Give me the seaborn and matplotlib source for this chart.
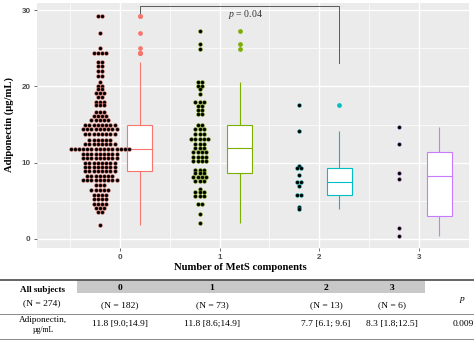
import numpy as np
import pandas as pd
import matplotlib
matplotlib.use("Agg")
import matplotlib.pyplot as plt
import seaborn as sns
from matplotlib.lines import Line2D
from matplotlib.patches import Rectangle

# ---------------- data ----------------
groups = [0, 1, 2, 3]
group_colors = ["#F8766D", "#7CAE00", "#00BFC4", "#C77CFF"]

# adiponectin values (ug/mL) and number of subjects at each value
g0_values = [29.2, 27.0, 25.0, 24.4, 23.2, 22.7, 22.0, 21.4, 20.6, 20.1, 19.6, 19.1, 18.6, 18.0,
             17.5, 16.6, 16.1, 15.6, 15.0, 14.4, 13.7, 13.0, 12.4, 11.8, 11.2, 10.6, 10.0, 9.4,
             8.9, 8.2, 7.7, 7.1, 6.4, 5.8, 5.2, 4.6, 4.0, 3.5, 1.8]
g0_counts = [2, 1, 1, 4, 2, 2, 2, 2, 1, 2, 2, 3, 2, 3,
             3, 3, 4, 5, 8, 9, 8, 6, 8, 15, 9, 9, 8, 8,
             8, 7, 9, 3, 5, 4, 4, 4, 3, 2, 1]

g1_values = [27.2, 25.5, 24.9, 20.6, 20.1, 19.6, 19.0, 18.0, 17.4, 16.9, 16.4, 15.0, 14.4, 13.7,
             13.1, 12.5, 11.9, 11.4, 10.8, 10.2, 9.1, 8.6, 8.1, 7.6, 6.6, 6.1, 5.6, 4.6, 3.3, 2.1]
g1_counts = [1, 1, 1, 2, 2, 1, 1, 3, 2, 2, 2, 2, 3, 3,
             5, 3, 3, 4, 4, 4, 3, 3, 4, 3, 1, 3, 3, 2, 1, 1]

g2_values = [17.5, 14.1, 9.6, 9.3, 8.4, 7.5, 6.9, 5.8, 4.25, 3.9]
g2_counts = [1, 1, 1, 2, 1, 2, 1, 2, 1, 1]

g3_values = [14.7, 12.4, 8.6, 7.8, 1.5, 0.4]
g3_counts = [1, 1, 1, 1, 1, 1]

xlabel = "Number of MetS components"
ylabel = "Adiponectin (\u00b5g/mL)"
p_label = "0.04"

table_header = ["0", "1", "2", "3"]
table_n = ["(N = 182)", "(N = 73)", "(N = 13)", "(N = 6)"]
table_values = ["11.8 [9.0;14.9]", "11.8 [8.6;14.9]", "7.7 [6.1; 9.6]", "8.3 [1.8;12.5]"]
table_p = "0.009"

# ---------------- frame ----------------
DOT_STEP = 0.042      # horizontal stacking step of the dot plot (x data units)
DOT_SHIFT = -0.2      # dot plot sits left of the category
BOX_SHIFT = 0.2       # box plot sits right of the category

vals = [g0_values, g1_values, g2_values, g3_values]
cnts = [g0_counts, g1_counts, g2_counts, g3_counts]
frames = []
for g, v, c in zip(groups, vals, cnts):
    for value, n in zip(v, c):
        stack = (np.arange(n) - (n - 1) / 2) * DOT_STEP  # centred stacking (like geom_dotplot)
        frames.append(pd.DataFrame({"group": g, "adiponectin": value,
                                    "xdot": g + DOT_SHIFT + stack}))
df = pd.concat(frames, ignore_index=True)
df["xbox"] = df["group"] + BOX_SHIFT

# ---------------- figure ----------------
plt.rcParams["mathtext.fontset"] = "custom"
plt.rcParams["mathtext.it"] = "Liberation Serif:italic"
plt.rcParams["mathtext.rm"] = "Liberation Serif"

W, H = 474, 341
fig = plt.figure(figsize=(W / 100, H / 100), dpi=100)
fig.patch.set_facecolor("white")

def fx(px):
    return px / W

def fy(py):
    return 1 - py / H

ax = fig.add_axes([fx(37), fy(248), (469 - 37) / W, (248 - 3) / H])
ax.set_facecolor("#EBEBEB")

for g, col in zip(groups, group_colors):
    sub = df[df["group"] == g]
    sns.boxplot(data=sub, x="xbox", y="adiponectin", native_scale=True, orient="x",
                color="white", linecolor=col, linewidth=0.8, width=0.25,
                showcaps=False, saturation=1,
                flierprops=dict(marker="o", markersize=2.4, markerfacecolor=col,
                                markeredgecolor=col),
                ax=ax)
    sns.scatterplot(data=sub, x="xdot", y="adiponectin", color="black", edgecolor=col,
                    linewidth=0.3, s=7.6, ax=ax, zorder=3, legend=False)

ax.set_xlim(-0.83, 3.49)
ax.set_ylim(-1.18, 30.92)
ax.set_xticks(groups)
ax.set_xticklabels([str(g) for g in groups])
ax.set_xticks([-0.5, 0.5, 1.5, 2.5, 3.5], minor=True)
ax.set_yticks([0, 10, 20, 30])
ax.set_yticks([5, 15, 25], minor=True)
ax.grid(which="major", color="white", linewidth=1.0)
ax.grid(which="minor", color="white", linewidth=0.5)
ax.set_axisbelow(True)
for s in ax.spines.values():
    s.set_visible(False)
ax.tick_params(which="major", length=2.5, width=0.5, color="#333333",
               labelsize=5.8, labelcolor="#4D4D4D", pad=2)
ax.tick_params(which="minor", length=0)
for lab in ax.get_xticklabels() + ax.get_yticklabels():
    lab.set_fontweight("bold")
    lab.set_fontfamily("Liberation Sans")
ax.set_xlabel("")
ax.set_ylabel("")

# significance bracket between group 0 and group 2 boxes
bx0, bx1 = groups[0] + BOX_SHIFT, groups[2] + BOX_SHIFT
ax.plot([bx0, bx0, bx1, bx1], [29.6, 30.5, 30.5, 23.1], color="#5A5A5A", lw=0.7,
        clip_on=False, zorder=4)
ax.text(1.26, 29.35, "$p$ = " + p_label, ha="center", va="center", fontsize=7,
        family="Liberation Serif", color="#333333")

serif = "Liberation Serif"
fig.text(fx(240), fy(267), xlabel, ha="center", va="center", fontsize=7.7,
         fontweight="bold", family=serif)
fig.text(fx(9), fy(125), ylabel, ha="center", va="center", rotation=90, fontsize=7.7,
         fontweight="bold", family=serif)

# ---------------- table ----------------
fig.patches.append(Rectangle((fx(77), fy(293)), (425 - 77) / W, (293 - 280) / H,
                             transform=fig.transFigure, facecolor="#C8C8C8",
                             edgecolor="none", zorder=0))
fig.lines.append(Line2D([0, 1], [fy(279.5), fy(279.5)], transform=fig.transFigure,
                        color="#4A4A4A", lw=1.2))
fig.lines.append(Line2D([0, 1], [fy(313.5), fy(313.5)], transform=fig.transFigure,
                        color="#8A8A8A", lw=0.7))
fig.lines.append(Line2D([0, 1], [fy(338.5), fy(338.5)], transform=fig.transFigure,
                        color="#8A8A8A", lw=0.7))

col_x = [120, 212, 326, 392]
fig.text(fx(42), fy(290), "All subjects", ha="center", va="center", fontsize=6.6,
         fontweight="bold", family=serif)
fig.text(fx(42), fy(303), "(N = 274)", ha="center", va="center", fontsize=6.8, family=serif)
for x, h, n, v in zip(col_x, table_header, table_n, table_values):
    fig.text(fx(x), fy(288), h, ha="center", va="center", fontsize=6.8,
             fontweight="bold", family=serif)
    fig.text(fx(x), fy(305), n, ha="center", va="center", fontsize=6.8, family=serif)
    fig.text(fx(x), fy(324), v, ha="center", va="center", fontsize=6.8, family=serif)
fig.text(fx(463), fy(300), "$p$", ha="center", va="center", fontsize=6.8, family=serif)
fig.text(fx(463), fy(324), table_p, ha="center", va="center", fontsize=6.8, family=serif)
fig.text(fx(43), fy(320), "Adiponectin,", ha="center", va="center", fontsize=6.6, family=serif)
fig.text(fx(43), fy(330.5), "\u00b5g/mL", ha="center", va="center", fontsize=5.6, family=serif)

fig.savefig("out.png", dpi=100)
